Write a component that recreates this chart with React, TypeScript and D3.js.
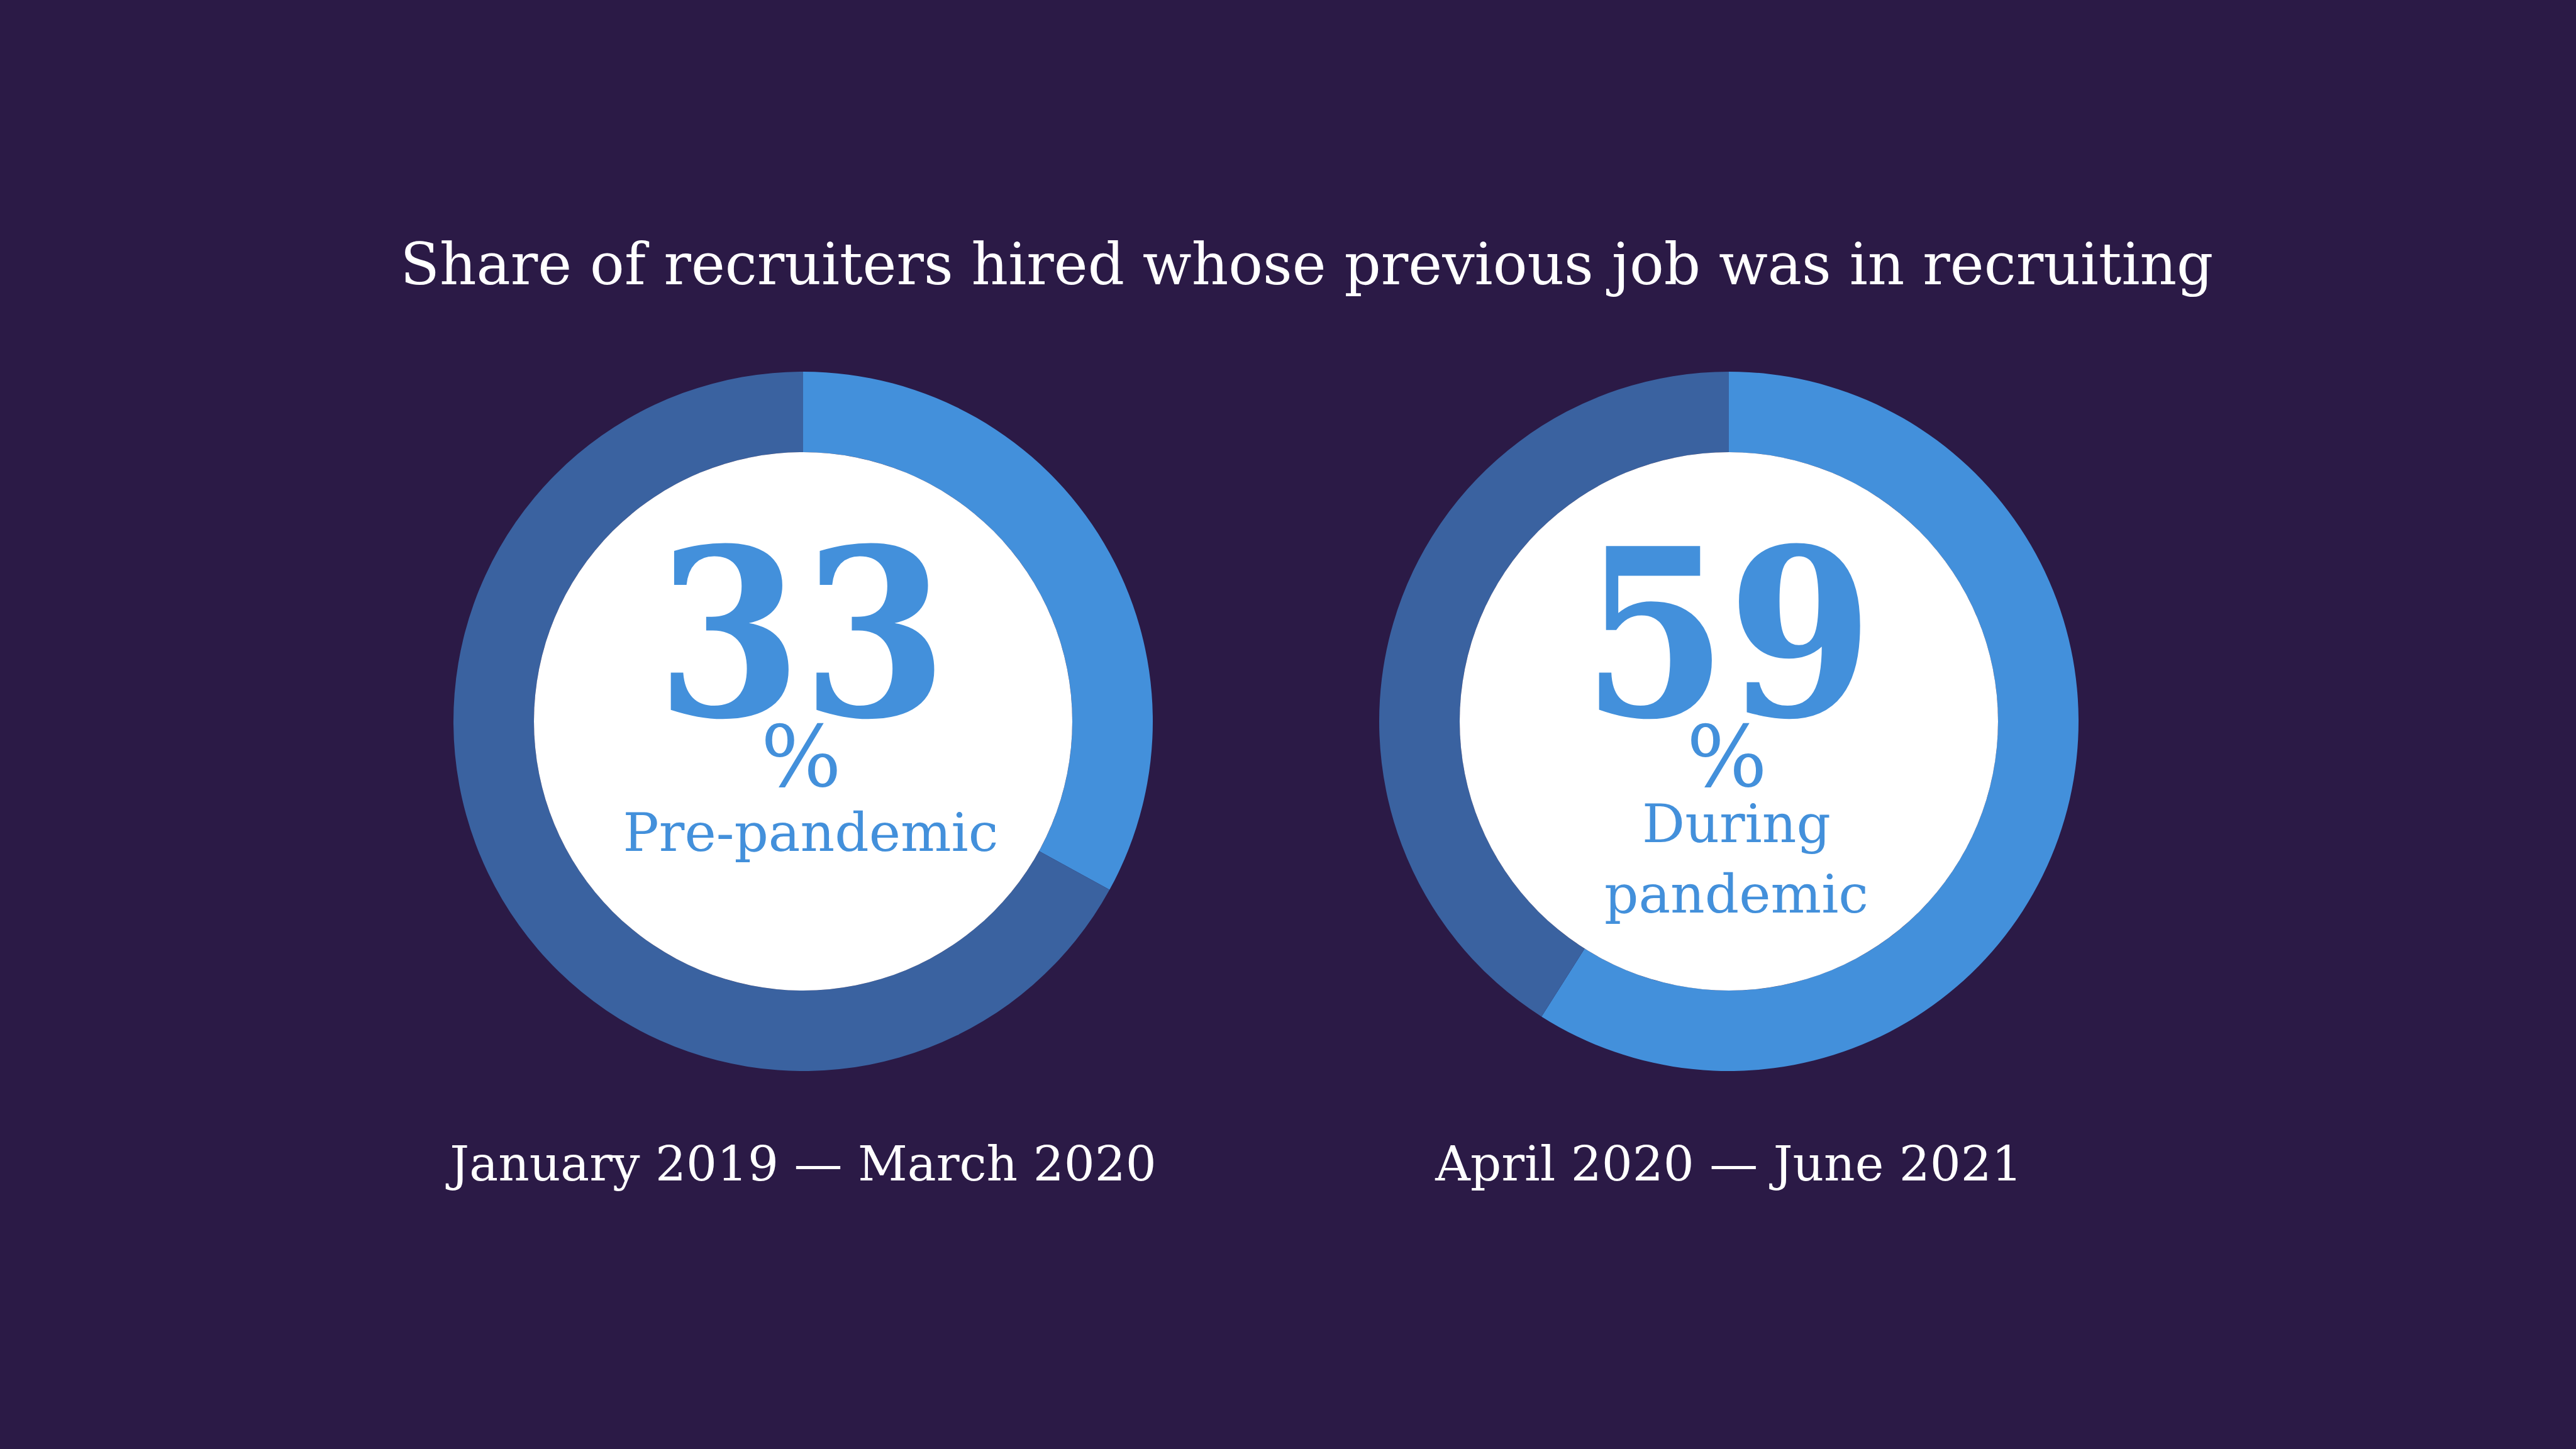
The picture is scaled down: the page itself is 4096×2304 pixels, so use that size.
import React, { useEffect } from "react";
import * as d3 from "d3";

const title = "Share of recruiters hired whose previous job was in recruiting";
const periods = ["January 2019 — March 2020", "April 2020 — June 2021"];
const phaseLabels = [["Pre-pandemic"], ["During", "pandemic"]];
const shares = [33, 59];

const W = 4096;
const H = 2304;
const BG = "#2B1A46";
const LIGHT = "#4390DB";
const DARK = "#3A62A0";
const FONT = "'DejaVu Serif', 'Liberation Serif', serif";
const NUMFONT = "'DejaVu Serif Condensed', 'DejaVu Serif', serif";

const centersX = [1277, 2749];
const cy = 1147;
const rOuter = 556;
const rInner = 428;

export default function App() {
  useEffect(() => {
    document.body.style.margin = "0";
  }, []);

  const pie = d3
    .pie<number>()
    .sort(null)
    .value((d) => d);
  const arc = d3.arc<d3.PieArcDatum<number>>().innerRadius(rInner).outerRadius(rOuter);

  return (
    <svg
      width={W}
      height={H}
      style={{ display: "block", position: "absolute", left: 0, top: 0 }}
    >
      <rect x={0} y={0} width={W} height={H} fill={BG} />
      <text
        x={2078}
        y={452}
        textAnchor="middle"
        fill="#fff"
        fontFamily={FONT}
        fontSize={91}
      >
        {title}
      </text>
      {shares.map((s, i) => {
        const arcs = pie([s, 100 - s]);
        const cx = centersX[i];
        const lines = phaseLabels[i];
        const lineY = lines.length === 1 ? [1353] : [1339, 1451];
        return (
          <g key={i}>
            <g transform={`translate(${cx},${cy})`}>
              {arcs.map((a, j) => (
                <path key={j} d={arc(a) || ""} fill={j === 0 ? LIGHT : DARK} />
              ))}
              <circle r={rInner} fill="#fff" />
            </g>
            <text
              x={cx - 2}
              y={1138}
              textAnchor="middle"
              fill={LIGHT}
              fontFamily={NUMFONT}
              fontWeight="bold"
              fontSize={370}
            >
              {s}
            </text>
            <text
              x={cx - 3}
              y={1250}
              textAnchor="middle"
              fill={LIGHT}
              fontFamily={FONT}
              fontSize={135}
            >
              %
            </text>
            {lines.map((l, k) => (
              <text
                key={k}
                x={cx + 12}
                y={lineY[k]}
                textAnchor="middle"
                fill={LIGHT}
                fontFamily={FONT}
                fontSize={85}
              >
                {l}
              </text>
            ))}
            <text
              x={cx}
              y={1877}
              textAnchor="middle"
              fill="#fff"
              fontFamily={FONT}
              fontSize={77}
            >
              {periods[i]}
            </text>
          </g>
        );
      })}
    </svg>
  );
}
